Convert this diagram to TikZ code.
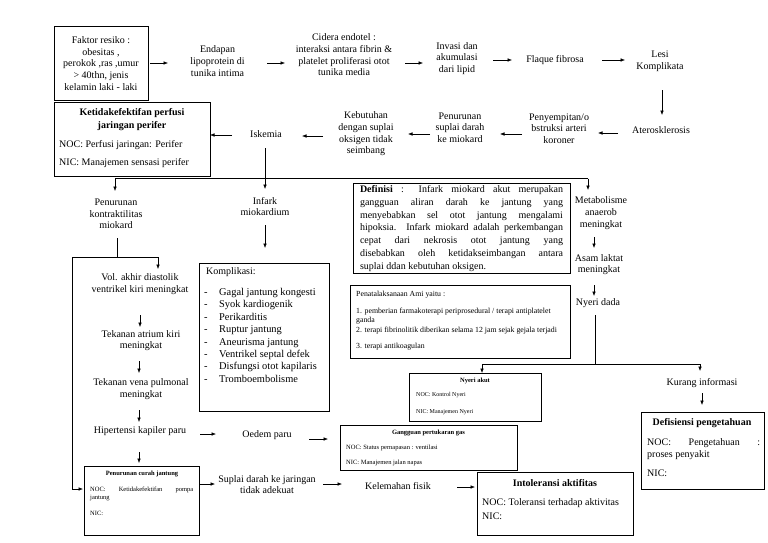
\documentclass[tikz,border=0pt]{standalone}
\usepackage{fontspec}
\setmainfont{Liberation Serif}
\usetikzlibrary{arrows.meta}
\begin{document}
\begin{tikzpicture}[x=1pt,y=-1pt,
 lbl/.style={align=center,inner sep=0pt,font=\fontsize{10}{11.7}\selectfont},
 bx/.style={draw,line width=1pt,inner sep=0pt},
 arr/.style={-{Latex[length=4.5pt,width=3.6pt]},line width=0.6pt},
 ln/.style={line width=0.6pt},
 sm/.style={inner sep=0pt,anchor=west,font=\fontsize{6.5}{8}\selectfont},
 xs/.style={inner sep=0pt,anchor=west,font=\fontsize{6}{8}\selectfont},
 smb/.style={inner sep=0pt,font=\fontsize{6.5}{8}\selectfont\bfseries},
 pt/.style={inner sep=0pt,anchor=west,font=\fontsize{7.8}{8.5}\selectfont},
 md/.style={inner sep=0pt,anchor=west,font=\fontsize{10}{12}\selectfont},
 mdb/.style={inner sep=0pt,align=center,font=\fontsize{10}{13}\selectfont\bfseries},
]
\fill[white] (0,0) rectangle (768,543);
\useasboundingbox (0,0) rectangle (768,543);

% ---------- top row ----------
\node[bx,lbl,minimum width=94,minimum height=73] (faktor) at (101,63.5) {Faktor resiko :\\obesitas ,\\perokok ,ras ,umur\\> 40thn, jenis\\kelamin laki - laki};
\node[lbl] (endapan) at (217.5,61) {Endapan\\lipoprotein di\\tunika intima};
\node[lbl] (cidera) at (344,55) {Cidera endotel :\\interaksi antara fibrin \&\\platelet proliferasi otot\\tunika media};
\node[lbl] (invasi) at (457,58.5) {Invasi dan\\akumulasi\\dari lipid};
\node[lbl] (flaque) at (555,60) {Flaque fibrosa};
\node[lbl] (lesi) at (660,61.5) {Lesi\\Komplikata};

% ---------- second row ----------
\node[lbl] (ater) at (661,130) {Aterosklerosis};
\node[lbl] (penyem) at (559,128.5) {Penyempitan/o\\bstruksi arteri\\koroner};
\node[lbl] (pensup) at (460,127.5) {Penurunan\\suplai darah\\ke miokard};
\node[lbl] (keb) at (366,134) {Kebutuhan\\dengan suplai\\oksigen tidak\\seimbang};
\node[lbl] (isk) at (266,134) {Iskemia};

\node[bx,minimum width=156,minimum height=74] (ketid) at (132,139) {};
\node[mdb] (ketidT) at (132,119.5) {Ketidakefektifan perfusi\\jaringan perifer};
\node[md] (ketidN) at (59,145) {NOC: Perfusi jaringan: Perifer};
\node[md] (ketidI) at (59,163) {NIC: Manajemen sensasi perifer};

% ---------- third row ----------
\node[lbl] (penkon) at (116,214) {Penurunan\\kontraktilitas\\miokard};
\node[lbl] (infark) at (265,206.5) {Infark\\miokardium};
\node[lbl] (metab) at (601,213) {Metabolisme\\anaerob\\meningkat};
\node[lbl] (asam) at (599,264.5) {Asam laktat\\meningkat};
\node[lbl] (nyeri) at (598,303) {Nyeri dada};

\node[bx,minimum width=217,minimum height=90] (defbox) at (461.5,228) {};
\node[inner sep=0pt,font=\fontsize{10}{12.7}\selectfont] (deftext) at (461.5,228.5) {\parbox{203pt}{\textbf{Definisi} : Infark miokard akut merupakan\linebreak gangguan aliran darah ke jantung yang\linebreak menyebabkan sel otot jantung mengalami\linebreak hipoksia. Infark miokard adalah perkembangan\linebreak cepat dari nekrosis otot jantung yang\linebreak disebabkan oleh ketidakseimbangan antara\linebreak suplai ddan kebutuhan oksigen.}};

\node[bx,minimum width=220,minimum height=73] (penat) at (460,321.5) {};
\node[pt] (penat0) at (356,295) {Penatalaksanaan Ami yaitu :};
\node[pt] (penat1) at (356,312) {1. pemberian farmakoterapi periprosedural / terapi antiplatelet};
\node[pt] (penat1b) at (356,320.5) {ganda};
\node[pt] (penat2) at (356,331) {2. terapi fibrinolitik diberikan selama 12 jam sejak gejala terjadi};
\node[pt] (penat3) at (356,347) {3. terapi antikoagulan};

% ---------- komplikasi ----------
\node[bx,minimum width=130,minimum height=148] (kompl) at (264,337) {};
\node[md] (komplT) at (206,272) {Komplikasi:};
\node[inner sep=0pt,anchor=west,align=left,font=\fontsize{10.4}{12.4}\selectfont] (komplL) at (204,335.4) {\makebox[15pt][l]{-}Gagal jantung kongesti\\\makebox[15pt][l]{-}Syok kardiogenik\\\makebox[15pt][l]{-}Perikarditis\\\makebox[15pt][l]{-}Ruptur jantung\\\makebox[15pt][l]{-}Aneurisma jantung\\\makebox[15pt][l]{-}Ventrikel septal defek\\\makebox[15pt][l]{-}Disfungsi otot kapilaris\\\makebox[15pt][l]{-}Tromboembolisme};

% ---------- left column ----------
\node[lbl] (vol) at (140,284) {Vol. akhir diastolik\\ventrikel kiri meningkat};
\node[lbl] (tek1) at (141,340.5) {Tekanan atrium kiri\\meningkat};
\node[lbl] (tek2) at (141,389) {Tekanan vena pulmonal\\meningkat};
\node[lbl] (hip) at (140,431) {Hipertensi kapiler paru};
\node[lbl] (oedem) at (267,435) {Oedem paru};

\node[bx,minimum width=177,minimum height=45] (gang) at (428.5,447.5) {};
\node[smb] (gangT) at (428.5,433) {Gangguan pertukaran gas};
\node[sm] (gangN) at (346,448) {NOC: Status pernapasan : ventilasi};
\node[sm] (gangI) at (346,463) {NIC: Manajemen jalan napas};

\node[bx,minimum width=115,minimum height=69] (pencur) at (141.5,500.5) {};
\node[smb] (pencurT) at (142,474) {Penurunan curah jantung};
\node[sm] (pencurN) at (90,494) {\parbox{103pt}{NOC: Ketidakefektifan pompa\linebreak jantung}};
\node[sm] (pencurI) at (90,513) {NIC:};

\node[lbl] (suplai) at (267,484.5) {Suplai darah ke jaringan\\tidak adekuat};
\node[lbl] (kelem) at (398,486) {Kelemahan fisik};

\node[bx,minimum width=156,minimum height=63] (intol) at (555,503.5) {};
\node[mdb] (intolT) at (555,483) {Intoleransi aktifitas};
\node[md] (intolN) at (482,503) {NOC: Toleransi terhadap aktivitas};
\node[md] (intolI) at (482,516) {NIC:};

% ---------- right bottom ----------
\node[bx,minimum width=132,minimum height=48] (nyakut) at (475,397) {};
\node[smb] (nyakutT) at (475,381) {Nyeri akut};
\node[xs] (nyakutN) at (416,395) {NOC: Kontrol Nyeri};
\node[xs] (nyakutI) at (416,412) {NIC: Manajemen Nyeri};

\node[lbl] (kurang) at (702,383) {Kurang informasi};
\node[bx,minimum width=123,minimum height=77] (defis) at (702.5,450.5) {};
\node[mdb] (defisT) at (702,423) {Defisiensi pengetahuan};
\node[md] (defisN) at (647,449) {\parbox{113pt}{NOC: Pengetahuan :\linebreak proses penyakit}};
\node[md] (defisI) at (647,473) {NIC:};

% ---------- connectors ----------
\draw[arr] ([shift={(49,-0.5)}]faktor.center) -- ([shift={(-49.5,2)}]endapan.center);
\draw[arr] ([shift={(49.5,2)}]endapan.center) -- ([shift={(-59,8)}]cidera.center);
\draw[arr] ([shift={(61,8)}]cidera.center) -- ([shift={(-34,4.5)}]invasi.center);
\draw[arr] ([shift={(36,1.5)}]invasi.center) -- ([shift={(-43,0)}]flaque.center);
\draw[arr] ([shift={(47,0)}]flaque.center) -- ([shift={(-35,-1.5)}]lesi.center);
\draw[arr] ([shift={(2,28.5)}]lesi.center) -- ([shift={(1,-15)}]ater.center);
\draw[arr] ([shift={(-43,3)}]ater.center) -- ([shift={(39,4.5)}]penyem.center);
\draw[arr] ([shift={(-37,5.5)}]penyem.center) -- ([shift={(40,6.5)}]pensup.center);
\draw[arr] ([shift={(-30,6.5)}]pensup.center) -- ([shift={(42,0)}]keb.center);
\draw[arr] ([shift={(-43,2)}]keb.center) -- ([shift={(36,2)}]isk.center);
\draw[arr] ([shift={(-34,1)}]isk.center) -- ([shift={(78,-4)}]ketid.center);
\draw[arr] ([shift={(-1,14)}]isk.center) -- ([shift={(0,-17.5)}]infark.center);

\coordinate (hL) at (115,178.5);
\coordinate (hR) at (588,178.5);
\draw[ln] (hL) -- (hR);
\draw[arr] (hL) -- ([shift={(-1,-23)}]penkon.center);
\draw[arr] (hR) -- ([shift={(-13,-23)}]metab.center);

\draw[arr] ([shift={(0,18.5)}]infark.center) -- ([shift={(1,-89)}]kompl.center);

\coordinate (kL) at (72,257);
\coordinate (kR) at (158,257);
\draw[ln] ([shift={(1,24)}]penkon.center) -- ([shift={(1,43)}]penkon.center);
\draw[ln] (kL) -- (kR);
\draw[arr] (kR) -- ([shift={(18,-15)}]vol.center);
\draw[arr] (kL) |- ([shift={(-58.5,-11.5)}]pencur.center);

\draw[arr] ([shift={(0,31)}]vol.center) -- ([shift={(-1,-13.5)}]tek1.center);
\draw[arr] ([shift={(-2,20.5)}]tek1.center) -- ([shift={(-2,-16)}]tek2.center);
\draw[arr] ([shift={(-2,21)}]tek2.center) -- ([shift={(-1,-9)}]hip.center);
\draw[arr] ([shift={(-1,21)}]hip.center) -- ([shift={(-2.5,-37.5)}]pencur.center);
\draw[arr] ([shift={(60,3)}]hip.center) -- ([shift={(-51,-1)}]oedem.center);
\draw[arr] ([shift={(42,4)}]oedem.center) -- ([shift={(-100.5,-8.5)}]gang.center);
\draw[arr] ([shift={(58.5,-16.5)}]pencur.center) -- ([shift={(-52,-0.5)}]suplai.center);
\draw[arr] ([shift={(56,-0.5)}]suplai.center) -- ([shift={(-56,-2)}]kelem.center);
\draw[arr] ([shift={(59,1)}]kelem.center) -- ([shift={(-80,-16.5)}]intol.center);

\draw[arr] ([shift={(-7,24)}]metab.center) -- ([shift={(-5,-16.5)}]asam.center);
\draw[arr] ([shift={(-5,20.5)}]asam.center) -- ([shift={(-4,-7)}]nyeri.center);

\coordinate (nL) at (482,364);
\coordinate (nR) at (700,364);
\draw[ln] ([shift={(-3,12)}]nyeri.center) -- ([shift={(-3,61)}]nyeri.center);
\draw[ln] (nL) -- (nR);
\draw[arr] (nL) -- ([shift={(7,-24)}]nyakut.center);
\draw[arr] (nR) -- ([shift={(-2,-12)}]kurang.center);
\draw[arr] ([shift={(0,10)}]kurang.center) -- ([shift={(-0.5,-45.5)}]defis.center);
\end{tikzpicture}
\end{document}
